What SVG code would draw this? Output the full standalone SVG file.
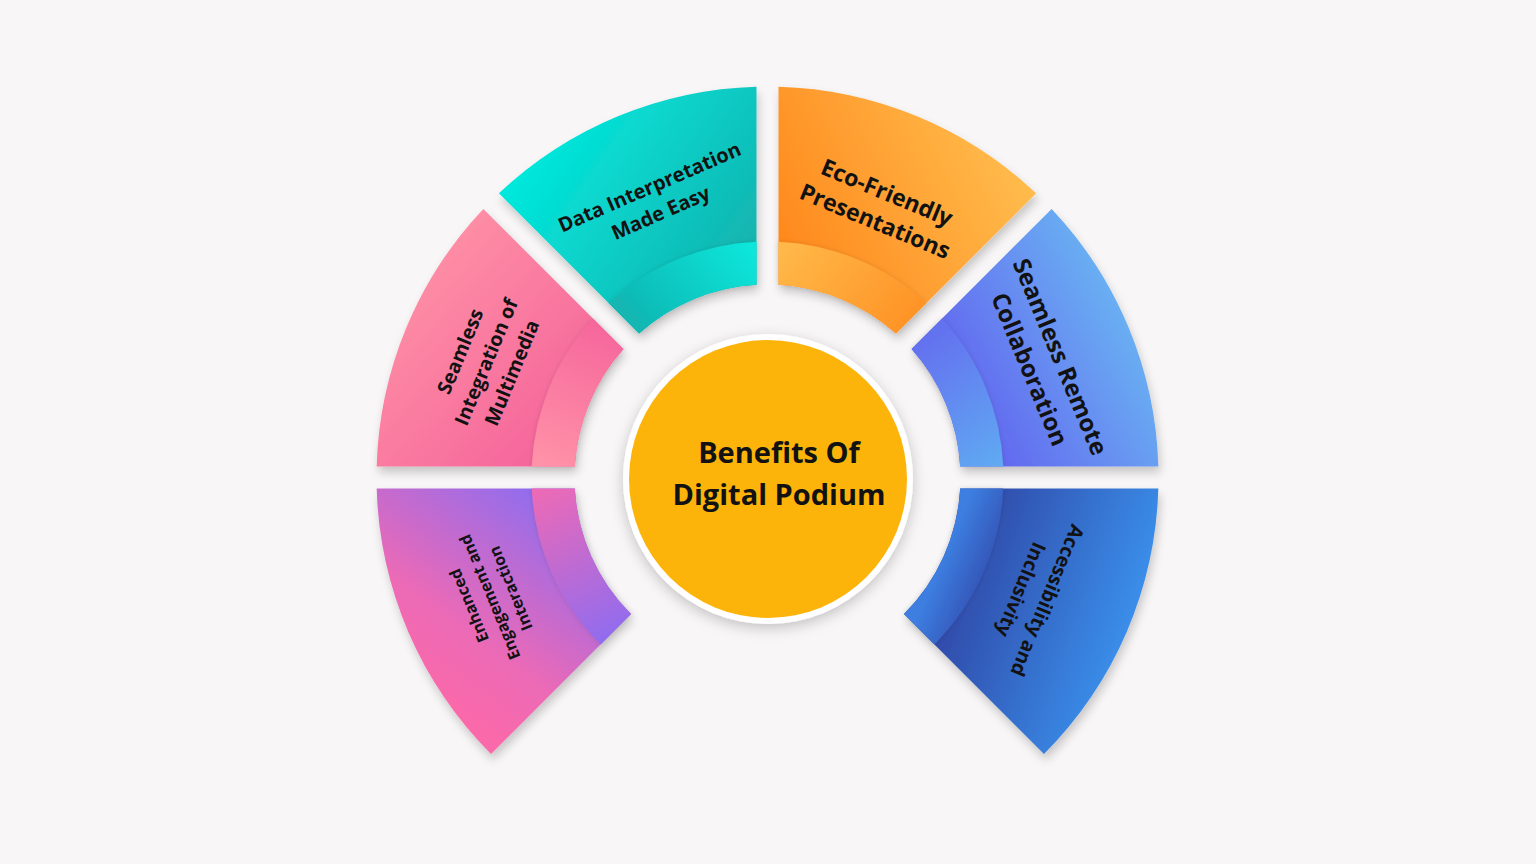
<svg xmlns="http://www.w3.org/2000/svg" width="1536" height="864" viewBox="0 0 1536 864">
<defs>
<style>
.lbl{font-family:"Open Sans","Liberation Sans",sans-serif;font-weight:700;fill:#121212;text-anchor:middle}
.seg{filter:url(#segShadow)}
.band{filter:url(#bandShadow)}
</style>
<filter id="segShadow" x="-20%" y="-20%" width="140%" height="140%">
<feDropShadow dx="2" dy="6" stdDeviation="5" flood-color="#000" flood-opacity="0.2"/>
</filter>
<filter id="bandShadow" x="-20%" y="-20%" width="140%" height="140%">
<feDropShadow dx="0" dy="0" stdDeviation="2.5" flood-color="#000" flood-opacity="0.12"/>
</filter>
<filter id="circShadow" x="-30%" y="-30%" width="160%" height="160%">
<feDropShadow dx="0" dy="4" stdDeviation="7" flood-color="#000" flood-opacity="0.22"/>
</filter>
<linearGradient id="g1m" gradientUnits="userSpaceOnUse" x1="440" y1="700" x2="580" y2="510"><stop offset="0" stop-color="#FA69AA"/><stop offset="0.3" stop-color="#EC6AB6"/><stop offset="1" stop-color="#8A6DF2"/></linearGradient>
<linearGradient id="g1b" gradientUnits="userSpaceOnUse" x1="540" y1="490" x2="615" y2="640"><stop offset="0" stop-color="#EC6BB6"/><stop offset="1" stop-color="#8E6CF0"/></linearGradient>
<linearGradient id="g2m" gradientUnits="userSpaceOnUse" x1="400" y1="250" x2="600" y2="430"><stop offset="0" stop-color="#FF93A6"/><stop offset="1" stop-color="#F4619A"/></linearGradient>
<linearGradient id="g2b" gradientUnits="userSpaceOnUse" x1="600" y1="325" x2="535" y2="466"><stop offset="0" stop-color="#F6679C"/><stop offset="1" stop-color="#FF93A8"/></linearGradient>
<linearGradient id="g3m" gradientUnits="userSpaceOnUse" x1="520" y1="120" x2="740" y2="270"><stop offset="0" stop-color="#00EEE2"/><stop offset="1" stop-color="#14B3AF"/></linearGradient>
<linearGradient id="g3b" gradientUnits="userSpaceOnUse" x1="745" y1="240" x2="640" y2="330"><stop offset="0" stop-color="#08E6DB"/><stop offset="1" stop-color="#12B6B2"/></linearGradient>
<linearGradient id="g4m" gradientUnits="userSpaceOnUse" x1="790" y1="250" x2="1010" y2="140"><stop offset="0" stop-color="#FF8A1E"/><stop offset="1" stop-color="#FFBC4C"/></linearGradient>
<linearGradient id="g4b" gradientUnits="userSpaceOnUse" x1="790" y1="240" x2="905" y2="330"><stop offset="0" stop-color="#FFB848"/><stop offset="1" stop-color="#FF9326"/></linearGradient>
<linearGradient id="g5m" gradientUnits="userSpaceOnUse" x1="1150" y1="300" x2="960" y2="400"><stop offset="0" stop-color="#6ABAF3"/><stop offset="1" stop-color="#6366EF"/></linearGradient>
<linearGradient id="g5b" gradientUnits="userSpaceOnUse" x1="915" y1="350" x2="1000" y2="466"><stop offset="0" stop-color="#6472EF"/><stop offset="1" stop-color="#60AAF2"/></linearGradient>
<linearGradient id="g6m" gradientUnits="userSpaceOnUse" x1="960" y1="560" x2="1130" y2="620"><stop offset="0" stop-color="#3049A8"/><stop offset="1" stop-color="#3A8DE9"/></linearGradient>
<linearGradient id="g6b" gradientUnits="userSpaceOnUse" x1="946" y1="551" x2="986" y2="568"><stop offset="0" stop-color="#3C7EE0"/><stop offset="1" stop-color="#3558BA"/></linearGradient>
</defs>
<rect width="1536" height="864" fill="#F8F6F6"/>
<g id="connectors"/>
<g id="seg-engagement">
<path class="seg" fill="url(#g1m)" d="M491.02,753.98 A391,391 0 0 1 376.65,488.5 L574.81,488.5 A193,193 0 0 0 631.03,613.97 Z"/>
<path class="band" fill="url(#g1b)" d="M600.62,644.38 A236,236 0 0 1 531.76,488.5 L574.81,488.5 A193,193 0 0 0 631.03,613.97 Z"/>
<g transform="translate(490,597) rotate(-112.5)">
<text class="lbl" font-size="16" y="-17">Enhanced</text>
<text class="lbl" font-size="16" y="5.5">Engagement and</text>
<text class="lbl" font-size="16" y="28">Interaction</text>
</g>
</g>
<g id="seg-multimedia">
<path class="seg" fill="url(#g2m)" d="M376.65,466.5 A391,391 0 0 1 483.35,208.91 L623.47,349.03 A193,193 0 0 0 574.81,466.5 Z"/>
<path class="band" fill="url(#g2b)" d="M531.76,466.5 A236,236 0 0 1 593.03,318.59 L623.47,349.03 A193,193 0 0 0 574.81,466.5 Z"/>
<g transform="translate(486,362) rotate(-67.5)">
<text class="lbl" font-size="19.5" y="-21">Seamless</text>
<text class="lbl" font-size="19.5" y="7">Integration of</text>
<text class="lbl" font-size="19.5" y="35">Multimedia</text>
</g>
</g>
<g id="seg-data">
<path class="seg" fill="url(#g3m)" d="M498.91,193.35 A391,391 0 0 1 756.5,86.65 L756.5,284.81 A193,193 0 0 0 639.03,333.47 Z"/>
<path class="band" fill="url(#g3b)" d="M608.59,303.03 A236,236 0 0 1 756.5,241.76 L756.5,284.81 A193,193 0 0 0 639.03,333.47 Z"/>
<g transform="translate(655,200) rotate(-23.5)">
<text class="lbl" font-size="20" y="-7">Data Interpretation</text>
<text class="lbl" font-size="20" y="21">Made Easy</text>
</g>
</g>
<g id="seg-eco">
<path class="seg" fill="url(#g4m)" d="M778.5,86.65 A391,391 0 0 1 1036.09,193.35 L895.97,333.47 A193,193 0 0 0 778.5,284.81 Z"/>
<path class="band" fill="url(#g4b)" d="M778.5,241.76 A236,236 0 0 1 926.41,303.03 L895.97,333.47 A193,193 0 0 0 778.5,284.81 Z"/>
<g transform="translate(881,207) rotate(22.5)">
<text class="lbl" font-size="23" y="-7.5">Eco-Friendly</text>
<text class="lbl" font-size="23" y="23.5">Presentations</text>
</g>
</g>
<g id="seg-remote">
<path class="seg" fill="url(#g5m)" d="M1051.65,208.91 A391,391 0 0 1 1158.35,466.5 L960.19,466.5 A193,193 0 0 0 911.53,349.03 Z"/>
<path class="band" fill="url(#g5b)" d="M941.97,318.59 A236,236 0 0 1 1003.24,466.5 L960.19,466.5 A193,193 0 0 0 911.53,349.03 Z"/>
<g transform="translate(1045,363) rotate(67.5)">
<text class="lbl" font-size="24" y="-8">Seamless Remote</text>
<text class="lbl" font-size="24" y="25">Collaboration</text>
</g>
</g>
<g id="seg-access">
<path class="seg" fill="url(#g6m)" d="M1158.35,488.5 A391,391 0 0 1 1043.98,753.98 L903.97,613.97 A193,193 0 0 0 960.19,488.5 Z"/>
<path class="band" fill="url(#g6b)" d="M1003.24,488.5 A236,236 0 0 1 934.38,644.38 L903.97,613.97 A193,193 0 0 0 960.19,488.5 Z"/>
<g transform="translate(1034,595) rotate(112.5)">
<text class="lbl" font-size="19.5" y="-7.5">Accessibility and</text>
<text class="lbl" font-size="19.5" y="21">Inclusivity</text>
</g>
</g>
<g id="center">
<circle cx="768" cy="479" r="145" fill="#FFFFFF" filter="url(#circShadow)"/>
<circle cx="768" cy="479" r="139" fill="#FCB40A"/>
<text class="lbl" font-size="29" x="779" y="463">Benefits Of</text>
<text class="lbl" font-size="29" x="779" y="505">Digital Podium</text>
</g>
</svg>
